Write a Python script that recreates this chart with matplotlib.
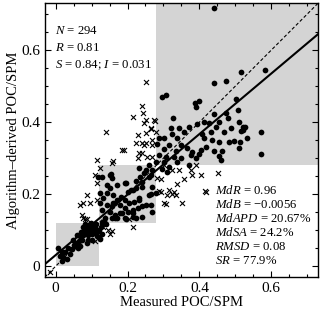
import matplotlib
matplotlib.use("Agg")
import matplotlib.pyplot as plt
from matplotlib.patches import Rectangle

plt.rcParams['font.family'] = ['Liberation Serif', 'DejaVu Serif']
plt.rcParams['mathtext.fontset'] = 'custom'
plt.rcParams['mathtext.rm'] = 'Liberation Serif'
plt.rcParams['mathtext.it'] = 'Liberation Serif:italic'

# matchups inside the shaded ranges (dots)
dot_meas = [0.44, 0.517, 0.583, 0.44, 0.473, 0.297, 0.308, 0.503, 0.388, 0.40,
            0.39, 0.327, 0.506, 0.473, 0.479, 0.44, 0.509, 0.412, 0.426, 0.454,
            0.393, 0.446, 0.371, 0.343, 0.321, 0.487, 0.528, 0.517, 0.357, 0.432,
            0.468, 0.572, 0.324, 0.407, 0.302, 0.288, 0.338, 0.412, 0.531, 0.434,
            0.454, 0.481, 0.495, 0.514, 0.283, 0.316, 0.349, 0.418, 0.509, 0.302,
            0.335, 0.366, 0.379, 0.404, 0.44, 0.462, 0.57, 0.308, 0.288, 0.33,
            0.349, 0.377, 0.399, 0.39, 0.459, 0.454, 0.28, 0.302, 0.338, 0.522,
            0.52,
            0.15, 0.159, 0.131, 0.17, 0.183, 0.2, 0.211, 0.225, 0.239, 0.142,
            0.156, 0.178, 0.192, 0.205, 0.219, 0.233, 0.15, 0.164, 0.186, 0.2,
            0.214, 0.228, 0.241, 0.214, 0.225, 0.239, 0.172, 0.156, 0.137, 0.192,
            0.128, 0.128, 0.15, 0.142, 0.17, 0.197, 0.214, 0.241, 0.261, 0.269,
            0.123, 0.159, 0.192, 0.233, 0.252, 0.269, 0.214, 0.178, 0.164, 0.197,
            0.261, 0.28, 0.142, 0.123, 0.233, 0.225, 0.117, 0.153, 0.156, 0.192,
            0.236, 0.261, 0.252, 0.269, 0.266, 0.266, 0.297, 0.31, 0.247, 0.266,
            0.316, 0.371,
            0.007, 0.018, 0.012, 0.026, 0.021, 0.032, 0.018, 0.04, 0.045, 0.054,
            0.059, 0.062, 0.073, 0.068, 0.076, 0.081, 0.076, 0.09, 0.095, 0.081,
            0.103, 0.114, 0.1, 0.09, 0.087, 0.117, 0.059, 0.048, 0.09, 0.109,
            0.068, 0.034, 0.085, 0.095, 0.1, 0.105, 0.11, 0.12, 0.098, 0.088,
            0.072, 0.065, 0.05, 0.112, 0.125, 0.13, 0.135, 0.14, 0.123, 0.128]
dot_alg = [0.717, 0.54, 0.546, 0.508, 0.513, 0.469, 0.474, 0.463, 0.452, 0.458,
           0.441, 0.411, 0.433, 0.425, 0.411, 0.422, 0.40, 0.40, 0.397, 0.40,
           0.394, 0.386, 0.386, 0.383, 0.383, 0.383, 0.386, 0.375, 0.372, 0.372,
           0.372, 0.372, 0.367, 0.367, 0.356, 0.356, 0.356, 0.356, 0.356, 0.35,
           0.345, 0.345, 0.348, 0.345, 0.339, 0.337, 0.337, 0.331, 0.328, 0.326,
           0.32, 0.328, 0.317, 0.323, 0.32, 0.32, 0.312, 0.303, 0.309, 0.303,
           0.30, 0.309, 0.312, 0.30, 0.295, 0.306, 0.29, 0.29, 0.29, 0.386,
           0.378,
           0.218, 0.199, 0.19, 0.185, 0.193, 0.207, 0.212, 0.218, 0.221, 0.171,
           0.166, 0.171, 0.163, 0.177, 0.179, 0.185, 0.152, 0.143, 0.149, 0.152,
           0.157, 0.163, 0.166, 0.138, 0.135, 0.138, 0.135, 0.135, 0.135, 0.135,
           0.157, 0.248, 0.254, 0.226, 0.226, 0.232, 0.212, 0.234, 0.248, 0.221,
           0.177, 0.177, 0.185, 0.19, 0.171, 0.152, 0.149, 0.149, 0.135, 0.13,
           0.199, 0.204, 0.204, 0.204, 0.273, 0.237, 0.248, 0.257, 0.246, 0.232,
           0.248, 0.281, 0.268, 0.268, 0.201, 0.171, 0.27, 0.262, 0.259, 0.254,
           0.276, 0.281,
           0.052, 0.041, 0.028, 0.039, 0.025, 0.019, 0.014, 0.033, 0.047, 0.055,
           0.066, 0.052, 0.074, 0.083, 0.088, 0.102, 0.11, 0.097, 0.116, 0.116,
           0.102, 0.083, 0.074, 0.074, 0.066, 0.097, 0.088, 0.074, 0.086, 0.094,
           0.055, 0.052, 0.095, 0.105, 0.09, 0.11, 0.105, 0.1, 0.12, 0.108,
           0.095, 0.07, 0.06, 0.118, 0.11, 0.12, 0.125, 0.118, 0.075, 0.09]

# matchups outside the shaded ranges (crosses)
cross_meas = [0.252, 0.241, 0.244, 0.214, 0.252, 0.247, 0.139, 0.277, 0.266, 0.23,
              0.225, 0.239, 0.252, 0.269, 0.186, 0.191, 0.241, 0.233, 0.269, 0.114,
              0.159, 0.228, 0.275, 0.266, 0.28, 0.252, 0.247, 0.269, 0.255, 0.123,
              0.109, 0.156, 0.114, 0.087, 0.068, 0.076, 0.095, 0.114, 0.073, 0.076,
              0.087, 0.081, 0.131, 0.145, 0.156, 0.15, 0.123, 0.214, 0.205, 0.109,
              -0.015,
              0.302, 0.324, 0.343, 0.377, 0.39, 0.379, 0.404, 0.451, 0.357, 0.338,
              0.418, 0.316, 0.33, 0.324, 0.294, 0.302, 0.352, 0.335, 0.288, 0.31,
              0.308, 0.415, 0.283, 0.294]
cross_alg = [0.51, 0.444, 0.425, 0.414, 0.406, 0.397, 0.372, 0.403, 0.383, 0.364,
             0.342, 0.342, 0.342, 0.337, 0.323, 0.323, 0.314, 0.314, 0.303, 0.295,
             0.292, 0.30, 0.406, 0.381, 0.372, 0.37, 0.337, 0.35, 0.303, 0.273,
             0.254, 0.287, 0.232, 0.199, 0.171, 0.177, 0.177, 0.185, 0.143, 0.135,
             0.132, 0.13, 0.108, 0.102, 0.097, 0.091, 0.083, 0.11, 0.13, 0.069,
             -0.015,
             0.281, 0.268, 0.268, 0.268, 0.281, 0.254, 0.254, 0.259, 0.243, 0.229,
             0.207, 0.212, 0.207, 0.201, 0.207, 0.177, 0.177, 0.199, 0.21, 0.199,
             0.174, 0.21, 0.246, 0.243]

# shaded ranges (lower, upper)
box_ranges = [(0.0, 0.12), (0.12, 0.28), (0.28, 0.8)]

fit_slope = 0.84
fit_intercept = 0.031

stats_left = ["$N$ = 294", "$R$ = 0.81", "$S$ = 0.84; $I$ = 0.031"]
stats_right = ["$MdR$ = 0.96", "$MdB$ = \u22120.0056", "$MdAPD$ = 20.67%",
               "$MdSA$ = 24.2%", "$RMSD$ = 0.08", "$SR$ = 77.9%"]

lim = (-0.03, 0.73)

fig = plt.figure(figsize=(3.2, 3.2), dpi=100)
ax = fig.add_axes([0.14, 0.134, 0.854, 0.856])

for lo, hi in box_ranges:
    ax.add_patch(Rectangle((lo, lo), hi - lo, hi - lo, facecolor='#d4d4d4',
                           edgecolor='none', zorder=0))

ax.plot(lim, lim, color='black', lw=0.8, ls=(0, (3, 2)), zorder=2)
ax.plot(lim, [fit_slope * v + fit_intercept for v in lim], color='black', lw=1.5, zorder=3)

ax.scatter(dot_meas, dot_alg, s=17, color='black', marker='o', linewidths=0, zorder=4)
ax.scatter(cross_meas, cross_alg, s=13, color='black', marker='x', linewidths=0.8, zorder=4)

ax.set_xlim(lim)
ax.set_ylim(lim)
ax.set_xticks([0, 0.2, 0.4, 0.6])
ax.set_yticks([0, 0.2, 0.4, 0.6])
ax.set_xticklabels(['0', '0.2', '0.4', '0.6'])
ax.set_yticklabels(['0', '0.2', '0.4', '0.6'])
ax.set_xticks([i * 0.05 for i in range(15)], minor=True)
ax.set_yticks([i * 0.05 for i in range(15)], minor=True)
ax.tick_params(which='both', direction='in', top=True, right=True, labelsize=11, width=0.8)
ax.tick_params(which='major', length=4)
ax.tick_params(which='minor', length=2.5)
for sp in ax.spines.values():
    sp.set_linewidth(1.0)

ax.set_xlabel('Measured POC/SPM', fontsize=10.5, labelpad=1)
ax.set_ylabel('Algorithm\u2013derived POC/SPM', fontsize=10.5, labelpad=1)

for i, t in enumerate(stats_left):
    ax.text(0.037, 0.898 - i * 0.062, t, transform=ax.transAxes, fontsize=9.2, va='center')
for i, t in enumerate(stats_right):
    ax.text(0.623, 0.318 - i * 0.052, t, transform=ax.transAxes, fontsize=9.2, va='center')

fig.savefig('out.png', dpi=100)
